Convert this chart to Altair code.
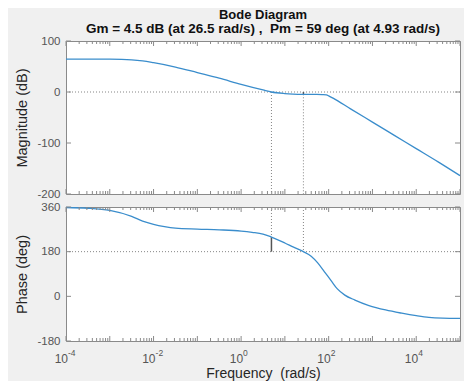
import altair as alt
import pandas as pd

# ---------------- data ----------------
mag_freq = [1e-4, 3.16e-4, 1e-3, 3.16e-3, 5.62e-3, 1e-2, 3.16e-2, 0.1, 0.316, 1, 3.16,
            4.93, 10, 26.5, 50, 70.8, 89.1, 100, 126, 316, 1000, 3162, 1e4, 31623, 1e5]
mag_db = [64.5, 64.5, 64.3, 63, 61, 57.5, 49, 38, 27, 15, 4,
          0, -3, -4.5, -4.7, -5, -5.5, -7.5, -12, -33, -59, -85, -111, -137, -164]

ph_freq = [1e-4, 3.16e-4, 1e-3, 3.16e-3, 5.62e-3, 1e-2, 1.78e-2, 3.16e-2, 0.1, 0.316,
           1, 1.78, 3.16, 4.93, 10, 15.8, 26.5, 39.8, 56.2, 79.4,
           117, 158, 234, 398, 832, 2000, 4677, 1e4, 19498, 39811, 1e5]
phase_deg = [358, 355, 346, 322, 303, 290, 281, 275, 271, 268,
             263, 258, 251, 239, 215, 198, 180, 162, 135, 100,
             60, 30, 5, -15, -37, -55, -68, -78, -85, -88, -89]

gm_db = 4.5
gm_freq = 26.5
pm_deg = 59
pm_freq = 4.93

mag_ticks = [100, 0, -100, -200]
phase_ticks = [360, 180, 0, -180]
decades = [-4, -3, -2, -1, 0, 1, 2, 3, 4, 5]
label_exps = [-4, -2, 0, 2, 4]

title_text = "Bode Diagram"
subtitle_text = "Gm = 4.5 dB (at 26.5 rad/s) ,\u00a0 Pm = 59 deg (at 4.93 rad/s)"

# ---------------- styling ----------------
W = 394
H1 = 153
H2 = 134
FONT = "Liberation Sans"
LINE = "#3a8dcc"
DOT = "#858585"
LABEL = "#555555"
FRAME = "#8a8a8a"

xscale = alt.Scale(type="log", domain=[1e-4, 1e5], nice=False)
mscale = alt.Scale(domain=[-200, 100], nice=False)
pscale = alt.Scale(domain=[-180, 360], nice=False)

major = pd.DataFrame({"f": [10.0 ** d for d in decades]})
minor = pd.DataFrame({"f": [m * 10.0 ** d for d in decades[:-1] for m in range(2, 10)]})

mag_yaxis = dict(values=mag_ticks, title="Magnitude (dB)", grid=False, ticks=False,
                 domain=False, labelPadding=6, titlePadding=7, titleFontSize=14.5,
                 labelExpr="'' + datum.value")
ph_yaxis = dict(values=phase_ticks, title="Phase (deg)", grid=False, ticks=False,
                domain=False, labelPadding=6, titlePadding=7, titleFontSize=14.5,
                labelExpr="'' + datum.value")
ph_xaxis = dict(title="Frequency\u00a0 (rad/s)", labels=False, ticks=False, domain=False,
                grid=False, titlePadding=25, titleFontSize=14)


def make_x(axis):
    if axis is None:
        return lambda field="f": alt.X(f"{field}:Q", scale=xscale, axis=None)
    return lambda field="f": alt.X(f"{field}:Q", scale=xscale, axis=alt.Axis(**axis))


def make_y(scale, axis):
    return lambda field: alt.Y(f"{field}:Q", scale=scale, axis=alt.Axis(**axis))


def x_ticks(h, X):
    layers = []
    for df, ln in ((major, 5), (minor, 3)):
        base = alt.Chart(df).mark_rule(color=FRAME, strokeWidth=1)
        layers.append(base.encode(x=X(), y=alt.value(0), y2=alt.value(ln)))
        layers.append(base.encode(x=X(), y=alt.value(h - ln), y2=alt.value(h)))
    return layers


def y_ticks(vals, Y):
    df = pd.DataFrame({"v": vals})
    base = alt.Chart(df).mark_rule(color=FRAME, strokeWidth=1)
    return [
        base.encode(y=Y("v"), x=alt.value(0), x2=alt.value(5)),
        base.encode(y=Y("v"), x=alt.value(W - 5), x2=alt.value(W)),
    ]


# ---------------- magnitude panel ----------------
X1 = make_x(None)
Y1 = make_y(mscale, mag_yaxis)
mag_df = pd.DataFrame({"f": mag_freq, "db": mag_db})
mag_line = alt.Chart(mag_df).mark_line(color=LINE, strokeWidth=1.3, interpolate="monotone").encode(
    x=X1(), y=Y1("db"))
zero_line = alt.Chart(pd.DataFrame({"v": [0]})).mark_rule(
    color=DOT, strokeDash=[1, 2], strokeWidth=1).encode(y=Y1("v"))
mag_vlines = alt.Chart(pd.DataFrame({"f": [pm_freq, gm_freq], "top": [0, -gm_db], "bot": [-200, -200]})).mark_rule(
    color=DOT, strokeDash=[1, 2], strokeWidth=1).encode(x=X1(), y=Y1("top"), y2=alt.Y2("bot:Q"))
gm_line = alt.Chart(pd.DataFrame({"f": [gm_freq], "a": [0], "b": [-gm_db]})).mark_rule(
    color="#555555", strokeWidth=1.5).encode(x=X1(), y=Y1("a"), y2=alt.Y2("b:Q"))

mag_panel = alt.layer(
    zero_line, mag_vlines, gm_line, mag_line, *x_ticks(H1, X1), *y_ticks(mag_ticks, Y1)
).properties(
    width=W, height=H1,
    title=alt.TitleParams(title_text, subtitle=subtitle_text, anchor="middle", frame="group",
                          fontSize=13, subtitleFontSize=13.5, fontWeight="bold",
                          subtitleFontWeight="bold", color="#111111", subtitleColor="#111111",
                          font=FONT, subtitleFont=FONT, subtitlePadding=0, offset=0),
)

# ---------------- phase panel ----------------
X2 = make_x(ph_xaxis)
Y2 = make_y(pscale, ph_yaxis)
ph_df = pd.DataFrame({"f": ph_freq, "deg": phase_deg})
ph_line = alt.Chart(ph_df).mark_line(color=LINE, strokeWidth=1.3, interpolate="monotone").encode(
    x=X2(), y=Y2("deg"))
line180 = alt.Chart(pd.DataFrame({"v": [180]})).mark_rule(
    color=DOT, strokeDash=[1, 2], strokeWidth=1).encode(y=Y2("v"))
ph_vlines = alt.Chart(pd.DataFrame({"f": [pm_freq, gm_freq], "top": [360, 360], "bot": [180 + pm_deg, 180]})).mark_rule(
    color=DOT, strokeDash=[1, 2], strokeWidth=1).encode(x=X2(), y=Y2("top"), y2=alt.Y2("bot:Q"))
pm_line = alt.Chart(pd.DataFrame({"f": [pm_freq], "a": [180], "b": [180 + pm_deg]})).mark_rule(
    color="#555555", strokeWidth=1.5).encode(x=X2(), y=Y2("a"), y2=alt.Y2("b:Q"))

lab_df = pd.DataFrame({"f": [10.0 ** e for e in label_exps], "base": ["10"] * len(label_exps),
                       "exp": [str(e) for e in label_exps]})
lab_base = alt.Chart(lab_df).mark_text(align="right", baseline="alphabetic", dx=2, fontSize=12,
                                       font=FONT, color=LABEL).encode(
    x=X2(), y=alt.value(H2 + 22), text=alt.Text("base:N"))
lab_exp = alt.Chart(lab_df).mark_text(align="left", baseline="alphabetic", dx=2, fontSize=8.5,
                                      font=FONT, color=LABEL).encode(
    x=X2(), y=alt.value(H2 + 15), text=alt.Text("exp:N"))

ph_panel = alt.layer(
    line180, ph_vlines, pm_line, ph_line, *x_ticks(H2, X2), *y_ticks(phase_ticks, Y2),
    lab_base, lab_exp
).properties(width=W, height=H2)

chart = alt.vconcat(mag_panel, ph_panel, spacing=13, bounds="flush").properties(
    background="#f0f0f0",
    padding={"left": 6, "top": 0, "right": 0, "bottom": 0},
).configure_view(
    fill="white", stroke=FRAME, strokeWidth=1
).configure_axis(
    labelFont=FONT, titleFont=FONT, labelFontSize=11.5, titleFontSize=14,
    labelColor=LABEL, titleColor="#262626", titleFontWeight="normal"
)

chart.save("out.html", embed_options={"renderer": "svg", "actions": False})
